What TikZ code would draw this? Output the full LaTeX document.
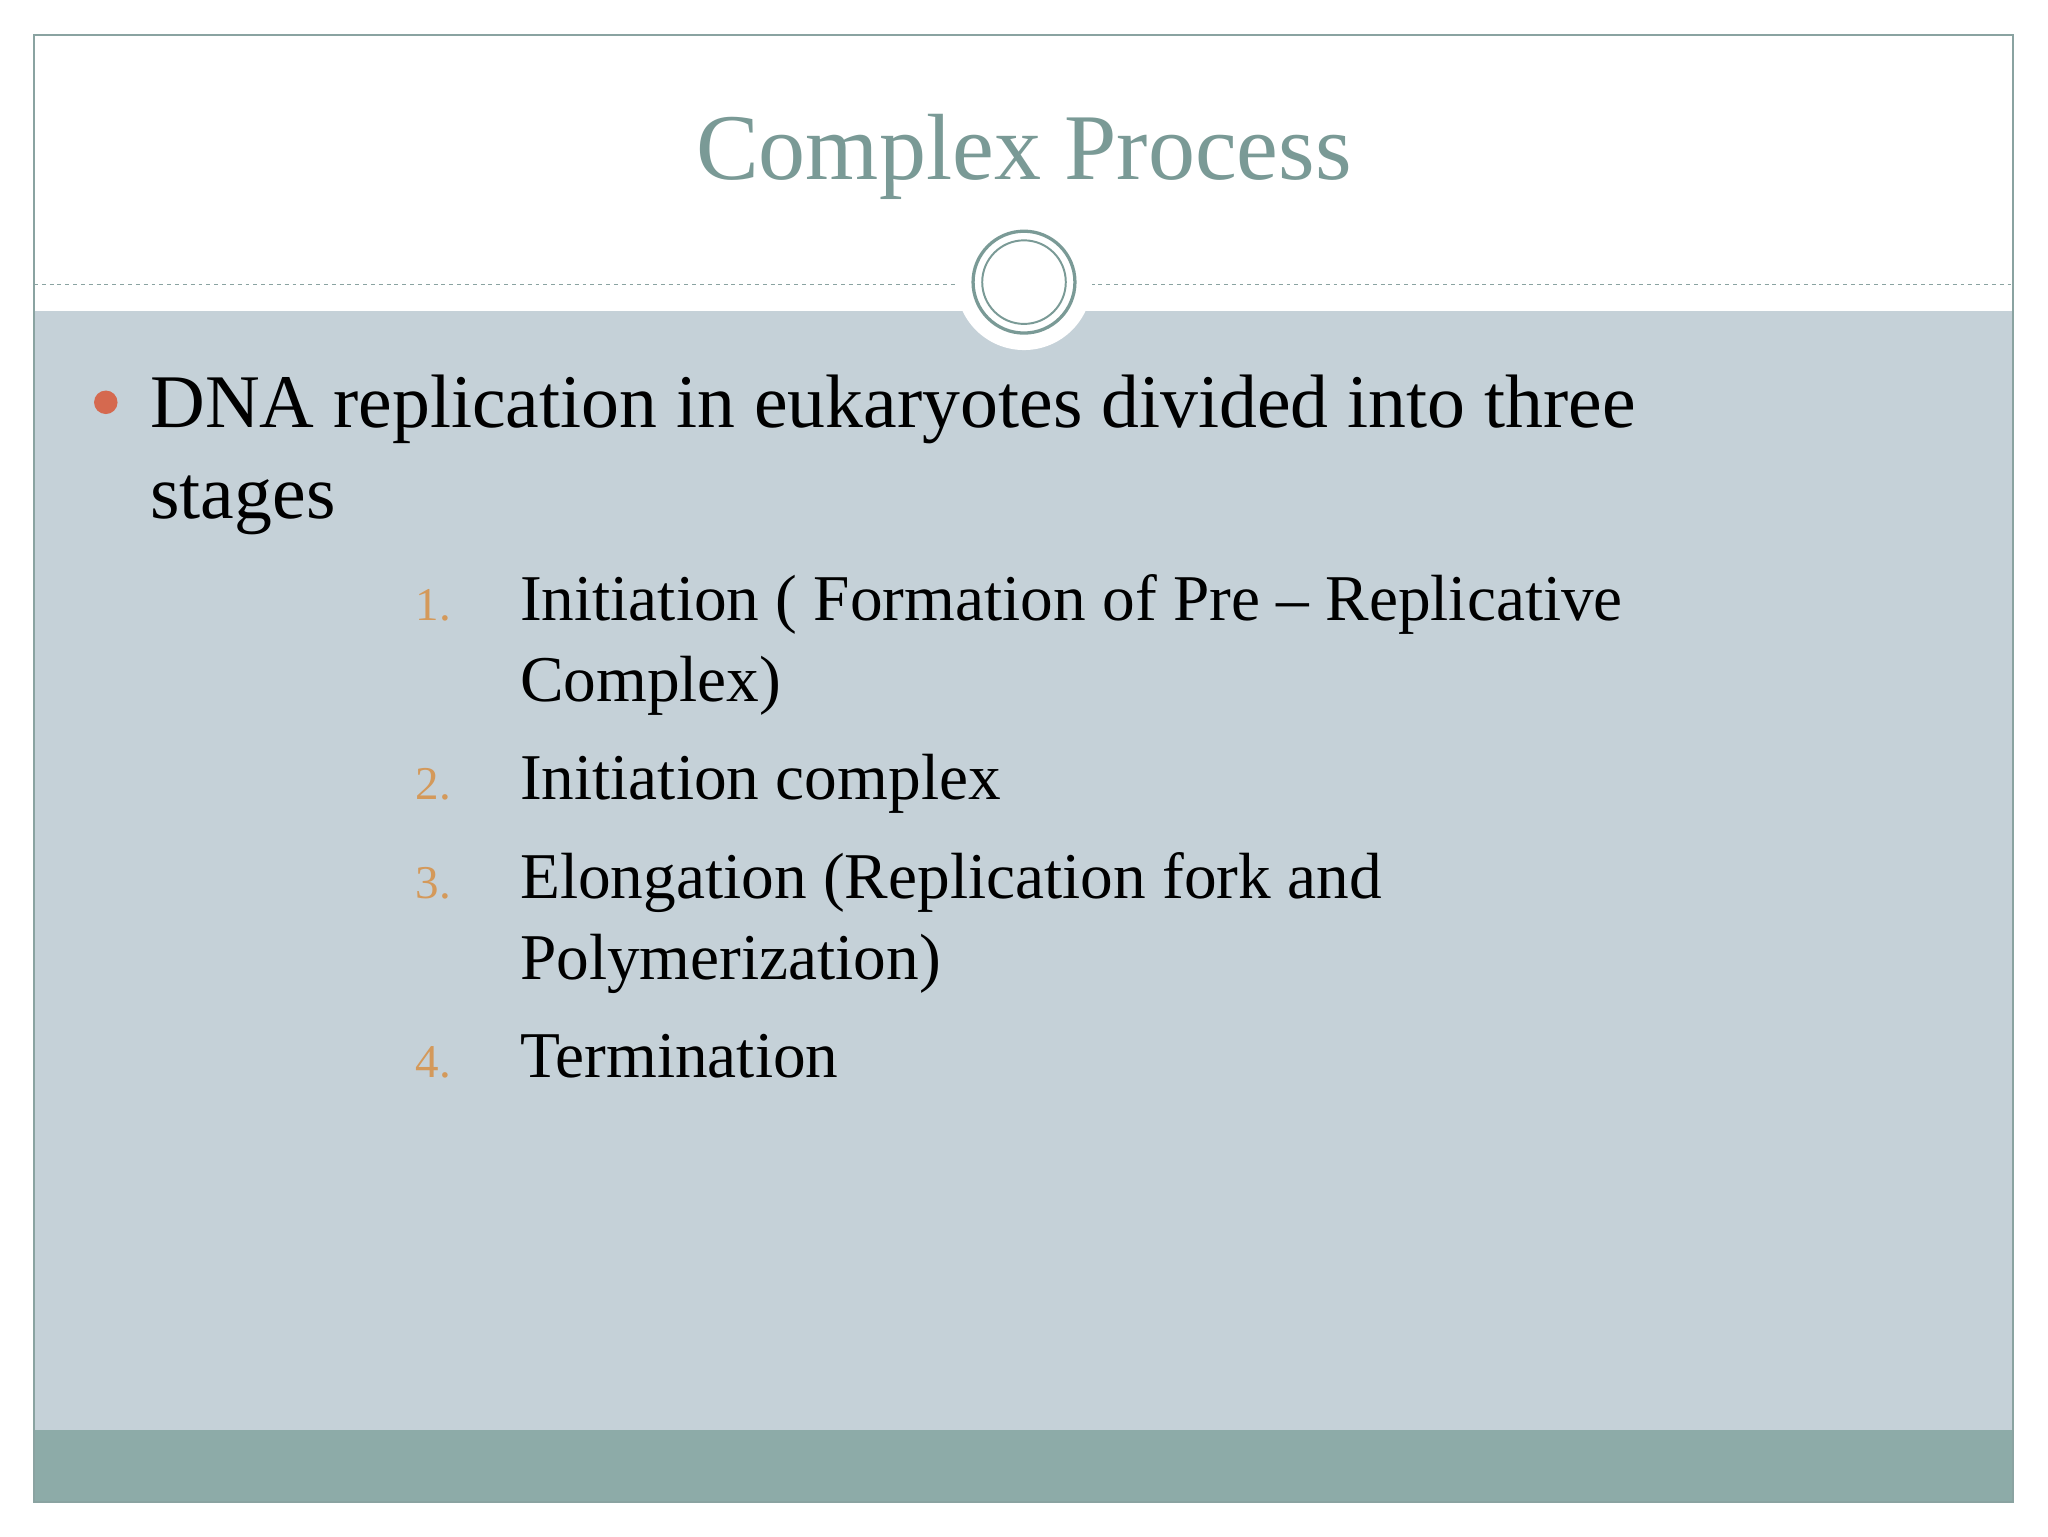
\documentclass[tikz,border=0pt]{standalone}
\usepackage{fontspec}
\setmainfont{Liberation Serif}
\definecolor{frame}{HTML}{8AA3A1}
\definecolor{body}{HTML}{C5D1D8}
\definecolor{foot}{HTML}{8DABA8}
\definecolor{ttl}{HTML}{7A9A96}
\definecolor{num}{HTML}{D4995A}
\definecolor{bul}{HTML}{D5694F}
\tikzset{
 main/.style={anchor=base west,inner sep=0pt,font=\fontsize{58}{58}\selectfont},
 item/.style={anchor=base west,inner sep=0pt,font=\fontsize{50}{50}\selectfont},
 numl/.style={anchor=base west,inner sep=0pt,text=num,font=\fontsize{36}{36}\selectfont}
}
\begin{document}
\begin{tikzpicture}[x=1pt,y=-1pt]
\useasboundingbox (0,0) rectangle (1568,1176);
\fill[white] (0,0) rectangle (1568,1176);
\fill[body] (26,238) rectangle (1541,1095);
\fill[foot] (26,1095) rectangle (1541,1150);
\draw[frame,line width=1.2pt] (26,27) rectangle (1541,1150);
\draw[frame,dashed,line width=0.8pt] (26,218) -- (735,218) (835,218) -- (1541,218);
\fill[white] (784,216) circle (52);
\draw[ttl,line width=2.5pt] (784,216) circle (39);
\draw[ttl,line width=1.5pt] (784,216) circle (32);
\node[text=ttl,font=\fontsize{72}{72}\selectfont] (title) at (784,120) {Complex Process};
\fill[bul] (81,308) circle (9);
\node[main] (l1) at (115,327) {DNA replication in eukaryotes divided into three};
\node[main] (l2) at (115,397) {stages};
\node[numl] (n1) at (318,475) {1.};
\node[item] (i1) at (398,475) {Initiation ( Formation of Pre -- Replicative};
\node[item] (i1b) at (398,537) {Complex)};
\node[numl] (n2) at (318,612) {2.};
\node[item] (i2) at (398,612) {Initiation complex};
\node[numl] (n3) at (318,688) {3.};
\node[item] (i3) at (398,688) {Elongation (Replication fork and};
\node[item] (i3b) at (398,750) {Polymerization)};
\node[numl] (n4) at (318,825) {4.};
\node[item] (i4) at (398,825) {Termination};
\end{tikzpicture}
\end{document}
